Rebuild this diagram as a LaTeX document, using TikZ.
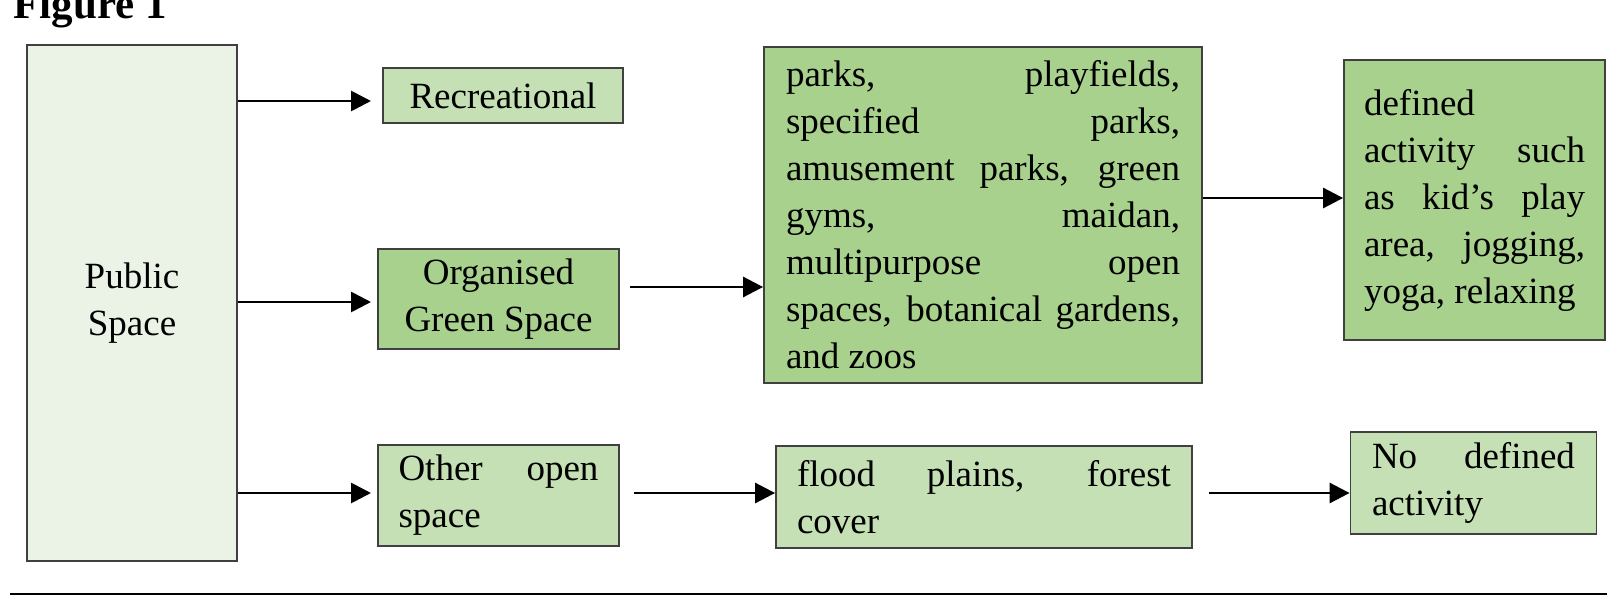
\documentclass[tikz,border=0pt]{standalone}
\usepackage{fontspec}
\setmainfont{Liberation Serif}
\usetikzlibrary{arrows.meta}
\definecolor{lg}{HTML}{C5E0B4}
\definecolor{dg}{HTML}{A9D18E}
\definecolor{pg}{HTML}{EBF2E6}
\definecolor{bd}{HTML}{404040}
\begin{document}
\begin{tikzpicture}[x=1pt,y=-1pt,
  box/.style={draw=bd,line width=1.8pt,inner ysep=0pt,font=\fontsize{37}{47}\selectfont},
  jbox/.style={box,align=justify,execute at begin node={\tolerance=10000\hyphenpenalty=10000\hbadness=10000}},
  arr/.style={line width=2.8pt,-{Triangle[length=20pt,width=20pt]}}]
\useasboundingbox (0,0) rectangle (1607,595);
\node[anchor=base west,font=\fontsize{43}{50}\selectfont\bfseries] (fig) at (10,18) {Figure 1};
\node[box,fill=pg,minimum width=210pt,minimum height=516pt,align=center] (pub) at (132,303) {Public\\Space};
\node[box,fill=lg,minimum width=240pt,minimum height=55pt] (rec) at (503,95.5) {Recreational};
\node[box,fill=dg,minimum width=241pt,minimum height=100pt,align=center] (org) at (498.5,299) {Organised\\Green Space};
\node[jbox,fill=lg,text width=200pt,inner xsep=20.5pt,minimum height=101pt] (oth) at (498.5,495.5) {Other open\linebreak space};
\node[jbox,fill=dg,text width=394pt,inner xsep=22pt,minimum height=336pt] (prk) at (983,215) {parks, playfields,\linebreak specified parks,\linebreak amusement parks, green\linebreak gyms, maidan,\linebreak multipurpose open\linebreak spaces, botanical gardens,\linebreak and zoos};
\node[jbox,fill=dg,text width=221pt,inner xsep=20pt,minimum height=280pt] (def) at (1474.5,200) {defined\newline activity such\linebreak as kid’s play\linebreak area, jogging,\linebreak yoga, relaxing\par\vspace{30pt}};
\node[jbox,fill=lg,text width=374pt,inner xsep=21pt,minimum height=102pt] (fld) at (984,497) {flood plains, forest\linebreak cover};
\node[jbox,fill=lg,text width=203pt,inner xsep=21.5pt,minimum height=102pt] (nod) at (1473.5,483) {No defined\linebreak activity};
\coordinate (pbot) at (10,594);
\coordinate (pend) at (1607,594);
\draw[arr] (pub.east |- 0,101) -- (371,101);
\draw[arr] (pub.east |- 0,302) -- (371,302);
\draw[arr] (pub.east |- 0,493) -- (371,493);
\draw[arr] (630,287) -- (prk.west |- 0,287);
\draw[arr] (634,493) -- (fld.west |- 0,493);
\draw[arr] (prk.east |- 0,198) -- (def.west |- 0,198);
\draw[arr] (1209,493) -- (nod.west |- 0,493);
\draw[line width=2.5pt] (pbot) -- (pend);
\end{tikzpicture}
\end{document}
